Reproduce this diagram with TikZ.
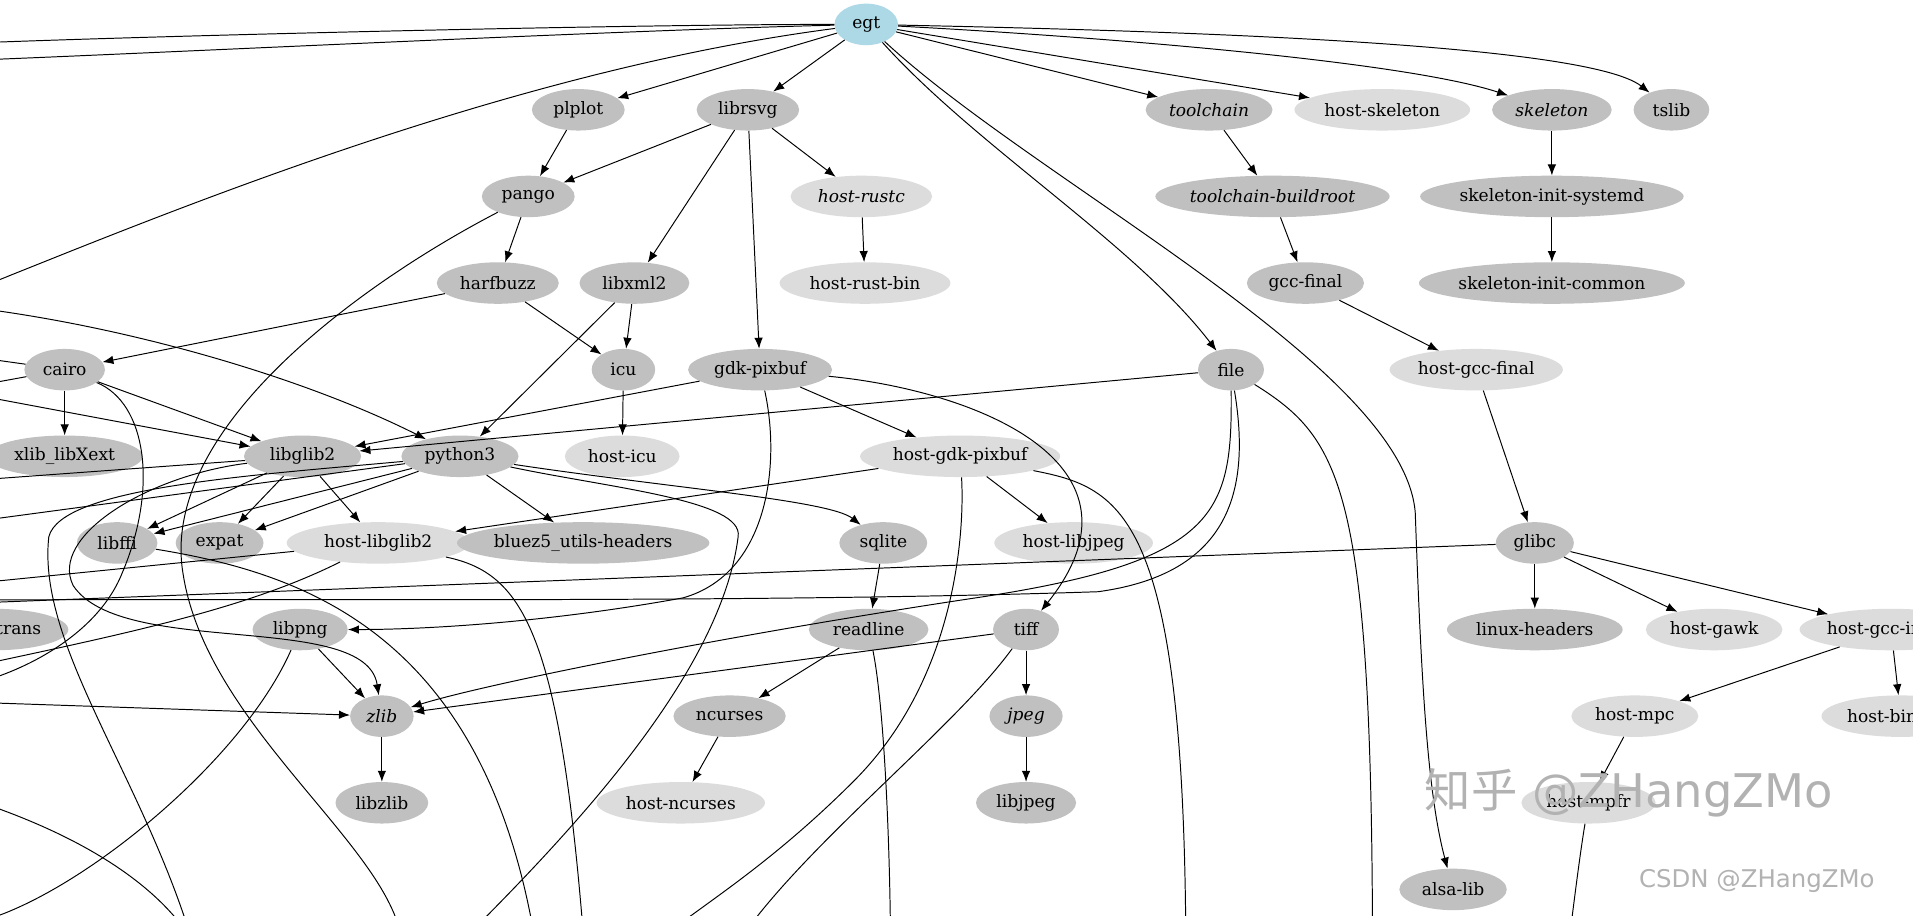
\documentclass[tikz,border=0pt]{standalone}
\usepackage{fontspec}
\setmainfont{DejaVu Serif}
\newfontfamily\cjk{Noto Sans CJK SC}
\newfontfamily\wm{DejaVu Sans}
\usetikzlibrary{shapes.geometric,arrows.meta}
\definecolor{dg}{HTML}{C0C0C0}
\definecolor{lg}{HTML}{DCDCDC}
\definecolor{lb}{HTML}{ADD8E6}
\begin{document}
\begin{tikzpicture}[x=1pt,y=-1pt,
  n/.style={ellipse,fill=dg,inner sep=0pt,minimum height=34pt,minimum width=#1,font=\fontsize{14}{16}\selectfont},
  l/.style={n=#1,fill=lg},
  it/.style={font=\fontsize{14}{16}\selectfont\itshape},
  e/.style={-{Latex[length=9pt,width=7pt]},line width=0.8pt},
  f/.style={line width=0.8pt}]
\useasboundingbox (0,0) rectangle (1568,750);
\fill[white] (0,0) rectangle (1568,750);
\node[n=52,fill=lb] (egt) at (710,20) {egt};
\node[n=76] (plplot) at (474,90) {plplot};
\node[n=84] (librsvg) at (613,90) {librsvg};
\node[n=104,it] (toolchain) at (991,90) {toolchain};
\node[l=144] (hskel) at (1133,90) {host-skeleton};
\node[n=98,it] (skeleton) at (1272,90) {skeleton};
\node[n=62] (tslib) at (1370,90) {tslib};
\node[n=76] (pango) at (433,161) {pango};
\node[l=116,it] (hrustc) at (706,161) {host-rustc};
\node[n=192,it] (tcbr) at (1043,161) {toolchain-buildroot};
\node[n=216] (sis) at (1272,161) {skeleton-init-systemd};
\node[n=100] (harfbuzz) at (408,232) {harfbuzz};
\node[n=90] (libxml2) at (520,232) {libxml2};
\node[l=140] (hrustbin) at (709,232) {host-rust-bin};
\node[n=96] (gccfinal) at (1070,232) {gcc-final};
\node[n=218] (sic) at (1272,232) {skeleton-init-common};
\node[n=66] (cairo) at (53,303) {cairo};
\node[n=52] (icu) at (511,303) {icu};
\node[n=118] (gdk) at (623,303) {gdk-pixbuf};
\node[n=54] (file) at (1009,303) {file};
\node[l=142] (hgccf) at (1210,303) {host-gcc-final};
\node[n=128] (xext) at (53,374) {xlib\_libXext};
\node[n=96] (glib) at (248,374) {libglib2};
\node[n=96] (python3) at (377,374) {python3};
\node[l=94] (hicu) at (510,374) {host-icu};
\node[l=164] (hgdk) at (787,374) {host-gdk-pixbuf};
\node[n=66] (libffi) at (96,445) {libffi};
\node[n=72] (expat) at (180,445) {expat};
\node[l=150] (hglib) at (310,445) {host-libglib2};
\node[n=176] (bluez) at (478,445) {bluez5\_utils-headers};
\node[n=72] (sqlite) at (724,445) {sqlite};
\node[l=130] (hjpeg) at (880,445) {host-libjpeg};
\node[n=64] (glibc) at (1258,445) {glibc};
\node[n=122] (xtrans) at (-5,516) {xlib\_xtrans};
\node[n=78] (libpng) at (246,516) {libpng};
\node[n=98] (readline) at (712,516) {readline};
\node[n=54] (tiff) at (841,516) {tiff};
\node[n=144] (lh) at (1258,516) {linux-headers};
\node[l=112] (hgawk) at (1405,516) {host-gawk};
\node[l=150] (hgcci) at (1550,516) {host-gcc-initial};
\node[n=52,it] (zlib) at (313,587) {zlib};
\node[n=92] (ncurses) at (598,587) {ncurses};
\node[n=60,it] (jpeg) at (841,587) {jpeg};
\node[l=104] (hmpc) at (1340,587) {host-mpc};
\node[l=130] (hbin) at (1558,587) {host-binutils};
\node[n=76] (libzlib) at (313,658) {libzlib};
\node[l=138] (hnc) at (558,658) {host-ncurses};
\node[n=82] (libjpeg) at (841,658) {libjpeg};
\node[l=110] (hmpfr) at (1302,658) {host-mpfr};
\node[n=88] (alsa) at (1191,729) {alsa-lib};
% offscreen coords
\coordinate (L1) at (-40,36);
\coordinate (L2) at (-40,50);
\coordinate (L3) at (-40,250);
\coordinate (L4) at (-40,245);
\coordinate (B1) at (1125,790);
\coordinate (B2) at (972,790);
\coordinate (B3) at (730,790);
\coordinate (B4) at (480,790);
\coordinate (B5) at (600,780);
\coordinate (B6) at (530,780);
\coordinate (B7) at (370,780);
\coordinate (B8) at (330,780);
\coordinate (B9) at (160,780);
\coordinate (B11) at (440,780);
\coordinate (B12) at (1285,780);
% egt edges
\draw[e] (egt) -- (plplot);
\draw[e] (egt) -- (librsvg);
\draw[e] (egt) -- (toolchain);
\draw[e] (egt) -- (hskel);
\draw[e] (egt) .. controls (900,30) and (1150,50) .. (skeleton);
\draw[e] (egt) .. controls (950,25) and (1300,35) .. (tslib);
\draw[e] (egt) .. controls (800,120) and (930,200) .. (file);
\draw[e] (egt) .. controls (850,150) and (1150,300) .. (1160,420) .. controls (1165,560) and (1170,650) .. (alsa);
\draw[f] (egt) .. controls (500,20) and (100,30) .. (L1);
\draw[f] (egt) .. controls (500,25) and (100,45) .. (L2);
\draw[f] (egt) .. controls (400,60) and (100,190) .. (L4);
\draw[e] (L3) .. controls (100,265) and (250,310) .. (python3);
% rest
\draw[e] (plplot) -- (pango);
\draw[e] (librsvg) -- (pango);
\draw[e] (librsvg) -- (hrustc);
\draw[e] (librsvg) -- (libxml2);
\draw[e] (librsvg) -- (gdk);
\draw[e] (hrustc) -- (hrustbin);
\draw[e] (toolchain) -- (tcbr);
\draw[e] (tcbr) -- (gccfinal);
\draw[e] (gccfinal) -- (hgccf);
\draw[e] (hgccf) -- (glibc);
\draw[e] (skeleton) -- (sis);
\draw[e] (sis) -- (sic);
\draw[e] (pango) -- (harfbuzz);
\draw[f] (pango) .. controls (300,230) and (130,350) .. (150,470) .. controls (170,600) and (330,700) .. (B8);
\draw[e] (harfbuzz) -- (cairo);
\draw[e] (harfbuzz) -- (icu);
\draw[e] (libxml2) -- (icu);
\draw[e] (libxml2) -- (python3);
\draw[e] (icu) -- (hicu);
\draw[e] (gdk) -- (glib);
\draw[e] (gdk) -- (hgdk);
\draw[e] (gdk) .. controls (800,320) and (950,380) .. (tiff);
\draw[e] (gdk) .. controls (640,380) and (630,470) .. (560,490) .. controls (450,510) and (350,516) .. (libpng);
\draw[e] (cairo) -- (xext);
\draw[e] (cairo) -- (glib);
\draw[e] (-40,320) -- (glib);
\draw[f] (cairo) .. controls (120,330) and (130,400) .. (100,470) .. controls (80,520) and (20,550) .. (-20,560);
\draw[f] (cairo) -- (-40,320);
\draw[f] (cairo) -- (-40,290);
\draw[e] (file) -- (glib);
\draw[e] (file) .. controls (1010,420) and (1000,460) .. (800,490) .. controls (600,520) and (400,560) .. (zlib);
\draw[f] (file) .. controls (1100,360) and (1125,400) .. (B1);
\draw[f] (file) .. controls (1025,400) and (1010,470) .. (900,485) .. controls (600,495) and (200,490) .. (-40,492);
\draw[e] (glib) -- (hglib);
\draw[e] (glib) -- (libffi);
\draw[e] (glib) .. controls (120,390) and (40,440) .. (60,480) .. controls (100,540) and (300,500) .. (zlib);
\draw[f] (glib) -- (-40,395);
\draw[e] (python3) -- (libffi);
\draw[e] (python3) -- (expat);
\draw[e] (glib) -- (expat);
\draw[e] (python3) -- (bluez);
\draw[e] (python3) .. controls (550,400) and (680,410) .. (sqlite);
\draw[f] (python3) .. controls (500,400) and (610,410) .. (605,440) .. controls (590,560) and (450,700) .. (B7);
\draw[f] (python3) .. controls (200,390) and (50,400) .. (40,440) .. controls (30,530) and (120,640) .. (B9);
\draw[f] (python3) -- (-40,430);
\draw[e] (hgdk) -- (hjpeg);
\draw[e] (hgdk) -- (hglib);
\draw[f] (hgdk) .. controls (790,420) and (790,550) .. (700,640) .. controls (620,720) and (560,750) .. (B6);
\draw[f] (hgdk) .. controls (920,400) and (972,420) .. (B2);
\draw[f] (hglib) .. controls (430,470) and (460,520) .. (B4);
\draw[f] (hglib) -- (-40,480);
\draw[f] (hglib) .. controls (200,500) and (100,520) .. (-40,550);
\draw[f] (libffi) .. controls (250,470) and (400,520) .. (B11);
\draw[e] (sqlite) -- (readline);
\draw[e] (readline) -- (ncurses);
\draw[f] (readline) .. controls (725,580) and (730,700) .. (B3);
\draw[e] (ncurses) -- (hnc);
\draw[e] (tiff) -- (jpeg);
\draw[e] (tiff) -- (zlib);
\draw[f] (tiff) .. controls (780,600) and (650,700) .. (B5);
\draw[e] (jpeg) -- (libjpeg);
\draw[e] (glibc) -- (lh);
\draw[e] (glibc) -- (hgawk);
\draw[e] (glibc) -- (hgcci);
\draw[f] (glibc) -- (-40,495);
\draw[e] (hgcci) -- (hmpc);
\draw[e] (hgcci) -- (hbin);
\draw[e] (hmpc) -- (hmpfr);
\draw[f] (hmpfr) .. controls (1295,700) and (1290,740) .. (B12);
\draw[e] (libpng) -- (zlib);
\draw[f] (libpng) .. controls (200,620) and (80,720) .. (0,750);
\draw[e] (-40,575) -- (zlib);
\draw[e] (zlib) -- (libzlib);
\draw[f] (-40,650) .. controls (60,680) and (120,720) .. (150,760);
% watermark
\node[text=gray!60,font=\fontsize{38}{42}\selectfont] at (1335,650) {{\cjk 知乎} {\wm @ZHangZMo}};
\node[text=gray!60,font=\wm\fontsize{20}{22}\selectfont] at (1440,722) {CSDN @ZHangZMo};
\end{tikzpicture}
\end{document}
